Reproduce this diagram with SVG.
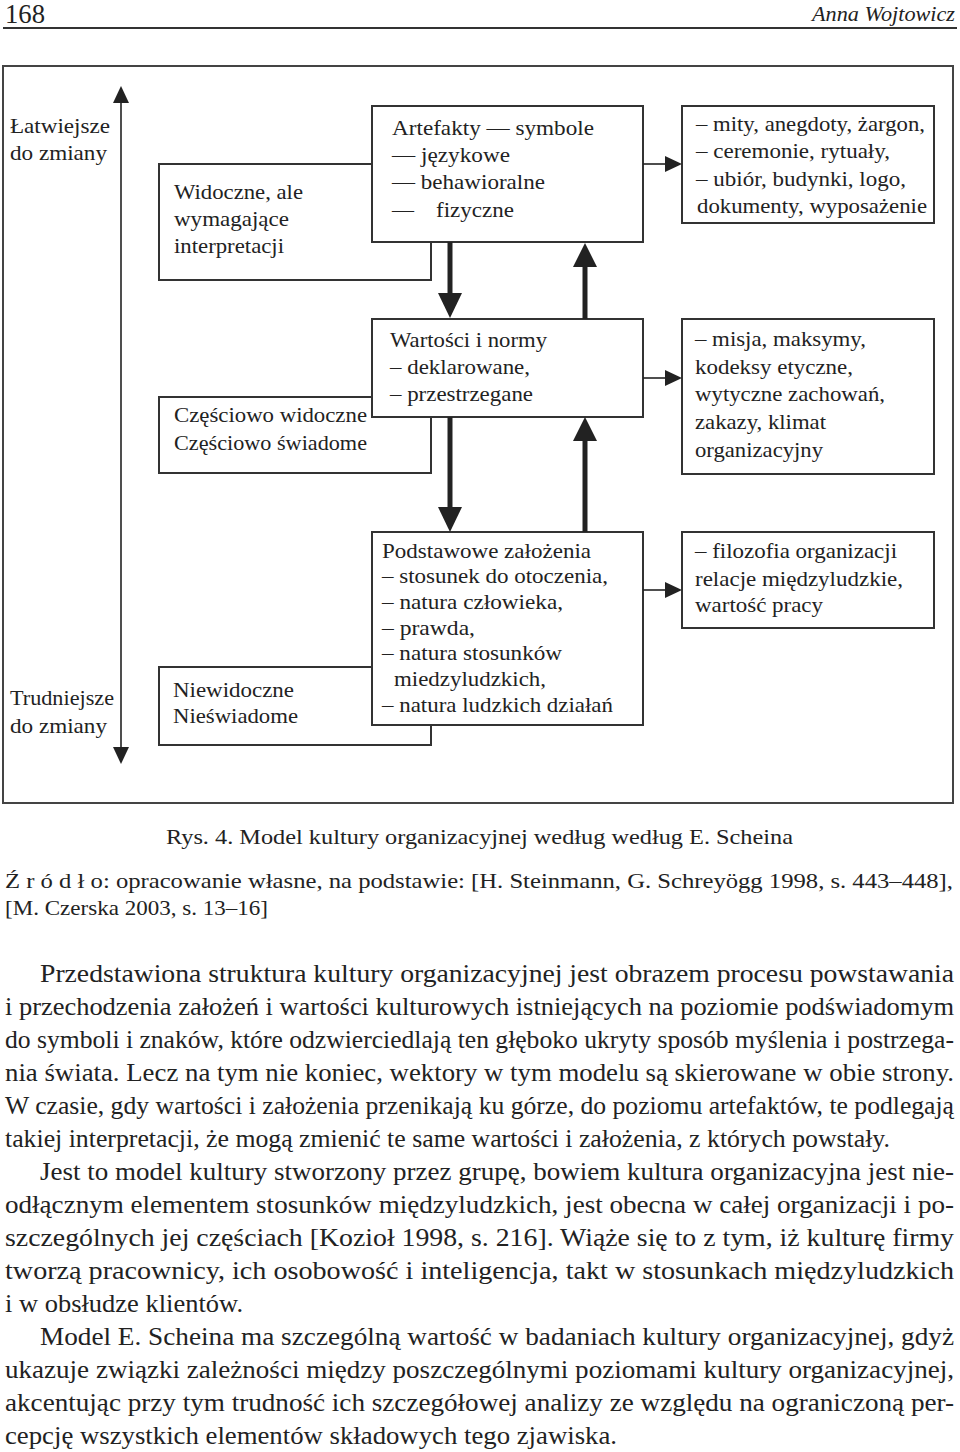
<svg xmlns="http://www.w3.org/2000/svg" width="960" height="1452" viewBox="0 0 960 1452">
<style>
text{font-family:"Liberation Serif","Times New Roman",serif;fill:#222}
.d{font-size:22px}
.b{font-size:25px}
.c{font-size:22px}
.box{fill:#fff;stroke:#333;stroke-width:2}
.thin{stroke:#222;stroke-width:1.6;fill:none}
.thick{stroke:#222;stroke-width:5;fill:none}
.head{fill:#222}
</style>
<rect width="960" height="1452" fill="#fff"/>
<g id="header">
<text x="5" y="23" style="font-size:27px" textLength="40" lengthAdjust="spacingAndGlyphs">168</text>
<text x="955" y="21" text-anchor="end" style="font-size:22px;font-style:italic" textLength="143" lengthAdjust="spacingAndGlyphs">Anna Wojtowicz</text>
<line x1="3" y1="28" x2="957" y2="28" stroke="#333" stroke-width="2"/>
</g>
<g id="frame">
<rect x="3" y="66" width="950" height="737" fill="none" stroke="#444" stroke-width="2"/>
</g>
<g id="axis-labels">
<text class="d" x="10" y="133" textLength="100" lengthAdjust="spacingAndGlyphs">Łatwiejsze</text>
<text class="d" x="10" y="160" textLength="97" lengthAdjust="spacingAndGlyphs">do zmiany</text>
<text class="d" x="10" y="705" textLength="104" lengthAdjust="spacingAndGlyphs">Trudniejsze</text>
<text class="d" x="10" y="733" textLength="97" lengthAdjust="spacingAndGlyphs">do zmiany</text>
</g>
<g id="visible">
<rect class="box" x="159" y="164" width="272" height="116"/>
<text class="d" x="174" y="199" textLength="129" lengthAdjust="spacingAndGlyphs">Widoczne, ale</text>
<text class="d" x="174" y="226" textLength="115" lengthAdjust="spacingAndGlyphs">wymagające</text>
<text class="d" x="174" y="253" textLength="110" lengthAdjust="spacingAndGlyphs">interpretacji</text>
</g>
<g id="partly">
<rect class="box" x="159" y="397" width="272" height="76"/>
<text class="d" x="174" y="422" textLength="193" lengthAdjust="spacingAndGlyphs">Częściowo widoczne</text>
<text class="d" x="174" y="450" textLength="193" lengthAdjust="spacingAndGlyphs">Częściowo świadome</text>
</g>
<g id="invisible">
<rect class="box" x="159" y="667" width="272" height="78"/>
<text class="d" x="173" y="697" textLength="121" lengthAdjust="spacingAndGlyphs">Niewidoczne</text>
<text class="d" x="173" y="723" textLength="125" lengthAdjust="spacingAndGlyphs">Nieświadome</text>
</g>
<g id="artifacts">
<rect class="box" x="372" y="106" width="271" height="136"/>
<text class="d" x="392" y="135" textLength="202" lengthAdjust="spacingAndGlyphs">Artefakty — symbole</text>
<text class="d" x="392" y="162" textLength="118" lengthAdjust="spacingAndGlyphs">— językowe</text>
<text class="d" x="392" y="189" textLength="153" lengthAdjust="spacingAndGlyphs">— behawioralne</text>
<text class="d" x="392" y="217">—</text>
<text class="d" x="436" y="217" textLength="78" lengthAdjust="spacingAndGlyphs">fizyczne</text>
</g>
<g id="values">
<rect class="box" x="372" y="319" width="271" height="98"/>
<text class="d" x="390" y="347" textLength="157" lengthAdjust="spacingAndGlyphs">Wartości i normy</text>
<text class="d" x="390" y="374" textLength="140" lengthAdjust="spacingAndGlyphs">– deklarowane,</text>
<text class="d" x="390" y="401" textLength="143" lengthAdjust="spacingAndGlyphs">– przestrzegane</text>
</g>
<g id="assumptions">
<rect class="box" x="372" y="532" width="271" height="193"/>
<text class="d" x="382" y="558" textLength="209" lengthAdjust="spacingAndGlyphs">Podstawowe założenia</text>
<text class="d" x="382" y="583" textLength="226" lengthAdjust="spacingAndGlyphs">– stosunek do otoczenia,</text>
<text class="d" x="382" y="609" textLength="181" lengthAdjust="spacingAndGlyphs">– natura człowieka,</text>
<text class="d" x="382" y="635" textLength="93" lengthAdjust="spacingAndGlyphs">– prawda,</text>
<text class="d" x="382" y="660" textLength="180" lengthAdjust="spacingAndGlyphs">– natura stosunków</text>
<text class="d" x="394" y="686" textLength="152" lengthAdjust="spacingAndGlyphs">miedzyludzkich,</text>
<text class="d" x="382" y="712" textLength="231" lengthAdjust="spacingAndGlyphs">– natura ludzkich działań</text>
</g>
<g id="artifacts-examples">
<rect class="box" x="682" y="106" width="252" height="117"/>
<text class="d" x="696" y="131" textLength="229" lengthAdjust="spacingAndGlyphs">– mity, anegdoty, żargon,</text>
<text class="d" x="696" y="158" textLength="194" lengthAdjust="spacingAndGlyphs">– ceremonie, rytuały,</text>
<text class="d" x="696" y="186" textLength="210" lengthAdjust="spacingAndGlyphs">– ubiór, budynki, logo,</text>
<text class="d" x="697" y="213" textLength="230" lengthAdjust="spacingAndGlyphs">dokumenty, wyposażenie</text>
</g>
<g id="values-examples">
<rect class="box" x="682" y="319" width="252" height="155"/>
<text class="d" x="695" y="346" textLength="171" lengthAdjust="spacingAndGlyphs">– misja, maksymy,</text>
<text class="d" x="695" y="374" textLength="158" lengthAdjust="spacingAndGlyphs">kodeksy etyczne,</text>
<text class="d" x="695" y="401" textLength="190" lengthAdjust="spacingAndGlyphs">wytyczne zachowań,</text>
<text class="d" x="695" y="429" textLength="131" lengthAdjust="spacingAndGlyphs">zakazy, klimat</text>
<text class="d" x="695" y="457" textLength="128" lengthAdjust="spacingAndGlyphs">organizacyjny</text>
</g>
<g id="assumptions-examples">
<rect class="box" x="682" y="532" width="252" height="96"/>
<text class="d" x="695" y="558" textLength="202" lengthAdjust="spacingAndGlyphs">– filozofia organizacji</text>
<text class="d" x="695" y="586" textLength="208" lengthAdjust="spacingAndGlyphs">relacje międzyludzkie,</text>
<text class="d" x="695" y="612" textLength="128" lengthAdjust="spacingAndGlyphs">wartość pracy</text>
</g>
<g id="connectors">
<line class="thin" x1="121" y1="102" x2="121" y2="749" stroke-width="2"/>
<polygon class="head" points="121,86 113,103 129,103"/>
<polygon class="head" points="121,764 113,747 129,747"/>
<line class="thin" x1="643" y1="164" x2="667" y2="164"/>
<polygon class="head" points="682,164 665,156 665,172"/>
<line class="thin" x1="643" y1="378" x2="667" y2="378"/>
<polygon class="head" points="682,378 665,370 665,386"/>
<line class="thin" x1="643" y1="590" x2="667" y2="590"/>
<polygon class="head" points="682,590 665,582 665,598"/>
<line class="thick" x1="450" y1="242" x2="450" y2="295"/>
<polygon class="head" points="450,318 438,293 462,293"/>
<line class="thick" x1="585" y1="319" x2="585" y2="265"/>
<polygon class="head" points="585,243 573,267 597,267"/>
<line class="thick" x1="450" y1="417" x2="450" y2="509"/>
<polygon class="head" points="450,532 438,507 462,507"/>
<line class="thick" x1="585" y1="532" x2="585" y2="438"/>
<polygon class="head" points="585,417 573,441 597,441"/>
</g>
<g id="caption">
<text class="c" x="166" y="844" textLength="627" lengthAdjust="spacingAndGlyphs">Rys. 4. Model kultury organizacyjnej według według E. Scheina</text>
<text class="c" x="5" y="888" textLength="948" lengthAdjust="spacingAndGlyphs">Ź r ó d ł o: opracowanie własne, na podstawie: [H. Steinmann, G. Schreyögg 1998, s. 443–448],</text>
<text class="c" x="5" y="915" textLength="263" lengthAdjust="spacingAndGlyphs">[M. Czerska 2003, s. 13–16]</text>
</g>
<g id="body">
<text class="b" x="40" y="982" textLength="914" lengthAdjust="spacingAndGlyphs">Przedstawiona struktura kultury organizacyjnej jest obrazem procesu powstawania</text>
<text class="b" x="5" y="1015" textLength="949" lengthAdjust="spacingAndGlyphs">i przechodzenia założeń i wartości kulturowych istniejących na poziomie podświadomym</text>
<text class="b" x="5" y="1048" textLength="949" lengthAdjust="spacingAndGlyphs">do symboli i znaków, które odzwierciedlają ten głęboko ukryty sposób myślenia i postrzega-</text>
<text class="b" x="5" y="1081" textLength="949" lengthAdjust="spacingAndGlyphs">nia świata. Lecz na tym nie koniec, wektory w tym modelu są skierowane w obie strony.</text>
<text class="b" x="5" y="1114" textLength="949" lengthAdjust="spacingAndGlyphs">W czasie, gdy wartości i założenia przenikają ku górze, do poziomu artefaktów, te podlegają</text>
<text class="b" x="5" y="1147" textLength="885" lengthAdjust="spacingAndGlyphs">takiej interpretacji, że mogą zmienić te same wartości i założenia, z których powstały.</text>
<text class="b" x="40" y="1180" textLength="914" lengthAdjust="spacingAndGlyphs">Jest to model kultury stworzony przez grupę, bowiem kultura organizacyjna jest nie-</text>
<text class="b" x="5" y="1213" textLength="949" lengthAdjust="spacingAndGlyphs">odłącznym elementem stosunków międzyludzkich, jest obecna w całej organizacji i po-</text>
<text class="b" x="5" y="1246" textLength="949" lengthAdjust="spacingAndGlyphs">szczególnych jej częściach [Kozioł 1998, s. 216]. Wiąże się to z tym, iż kulturę firmy</text>
<text class="b" x="5" y="1279" textLength="949" lengthAdjust="spacingAndGlyphs">tworzą pracownicy, ich osobowość i inteligencja, takt w stosunkach międzyludzkich</text>
<text class="b" x="5" y="1312" textLength="238" lengthAdjust="spacingAndGlyphs">i w obsłudze klientów.</text>
<text class="b" x="40" y="1345" textLength="914" lengthAdjust="spacingAndGlyphs">Model E. Scheina ma szczególną wartość w badaniach kultury organizacyjnej, gdyż</text>
<text class="b" x="5" y="1378" textLength="949" lengthAdjust="spacingAndGlyphs">ukazuje związki zależności między poszczególnymi poziomami kultury organizacyjnej,</text>
<text class="b" x="5" y="1411" textLength="949" lengthAdjust="spacingAndGlyphs">akcentując przy tym trudność ich szczegółowej analizy ze względu na ograniczoną per-</text>
<text class="b" x="5" y="1444" textLength="612" lengthAdjust="spacingAndGlyphs">cepcję wszystkich elementów składowych tego zjawiska.</text>
</g>
</svg>
